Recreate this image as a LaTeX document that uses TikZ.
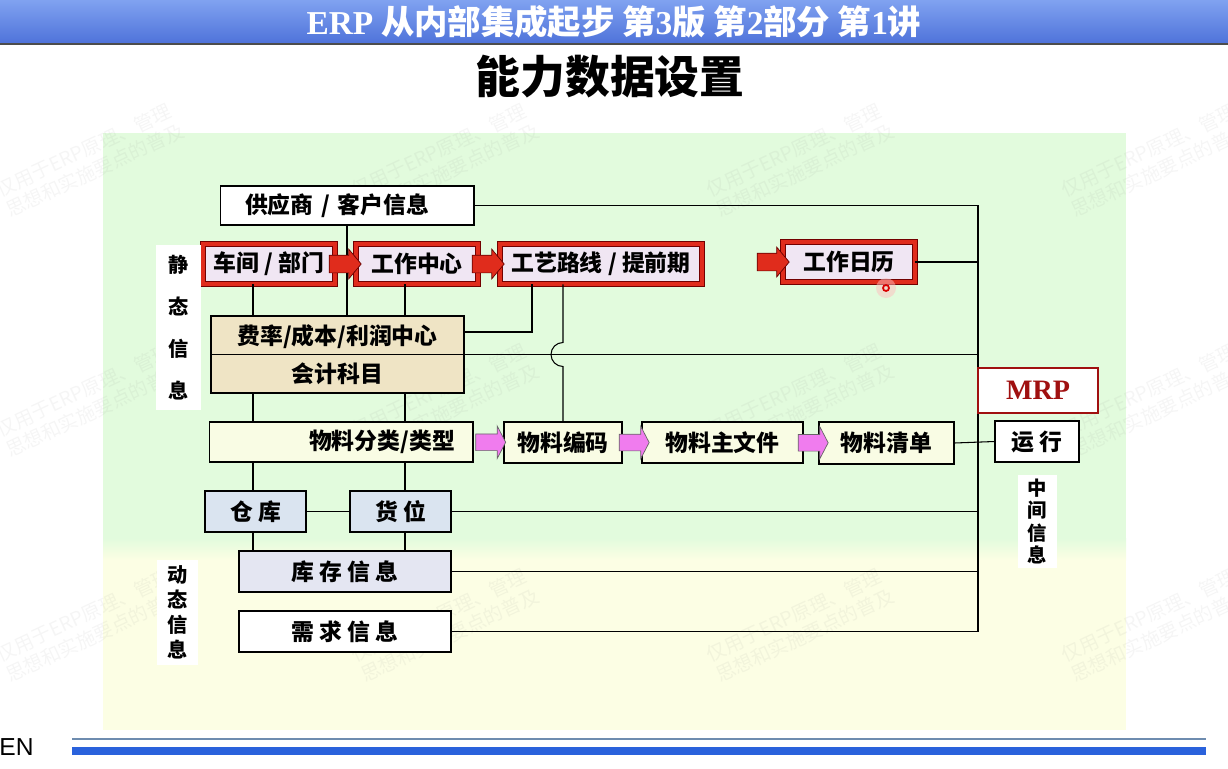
\documentclass[tikz,border=0pt]{standalone}
\usepackage{fontspec}
\setmainfont{Noto Sans CJK SC}
\newfontfamily\enserif{Liberation Serif}
\newfontfamily\ensans{Liberation Sans}
\usetikzlibrary{shapes.arrows,calc}

\definecolor{headtop}{RGB}{128,162,240}
\definecolor{headbot}{RGB}{78,114,218}
\definecolor{areagreen}{RGB}{226,251,221}
\definecolor{areayellow}{RGB}{252,254,228}
\definecolor{boxlav}{RGB}{240,230,243}
\definecolor{boxred}{RGB}{224,44,28}
\definecolor{boxtan}{RGB}{239,228,197}
\definecolor{paleyellow}{RGB}{249,252,228}
\definecolor{steel}{RGB}{218,228,240}
\definecolor{greyblue}{RGB}{228,230,242}
\definecolor{arrowpink}{RGB}{240,124,238}
\definecolor{mrpred}{RGB}{160,16,16}
\definecolor{barblue}{RGB}{42,98,220}
\definecolor{barline}{RGB}{110,140,175}

\tikzset{
  box/.style={draw=black, line width=0.6pt, inner sep=0pt, minimum height=0.82cm,
    font=\bfseries\fontsize{13}{15}\selectfont},
  redbox/.style={box, fill=boxlav, draw=red!45!black, line width=0.4pt,
    double=boxred, double distance=2.8pt, minimum height=0.80cm},
  redarrow/.style={single arrow, single arrow tip angle=100, single arrow head extend=0.12cm,
    inner xsep=0pt, inner ysep=0.17cm, minimum height=0.64cm,
    fill=boxred, draw=red!40!black, line width=0.4pt},
  pinkarrow/.style={single arrow, single arrow tip angle=125, single arrow head extend=0.16cm,
    inner xsep=0pt, inner ysep=0.16cm, minimum height=0.60cm,
    fill=arrowpink, draw=black!60, line width=0.4pt},
  vlabel/.style={fill=white, inner sep=0pt, align=center},
  conn/.style={draw=black, line width=0.6pt},
  watermark/.style={rotate=25, align=left, text=gray, opacity=0.08,
    font=\fontsize{11}{13}\selectfont}
}

\begin{document}
\begin{tikzpicture}[x=0.02cm,y=-0.02cm]
\useasboundingbox (0,0) rectangle (1228,768);

% header and title
\shade[top color=headtop, bottom color=headbot] (0,0) rectangle (1228,44);
\draw[black!70, line width=0.8pt] (0,44) -- (1228,44);
\node[text=white, font=\bfseries\fontsize{19}{21}\selectfont] (head) at (614,22)
  {{\enserif ERP} 从内部集成起步 第{\enserif 3}版 第{\enserif 2}部分 第{\enserif 1}讲};
\node[font=\bfseries\fontsize{25.5}{28}\selectfont] (title) at (610,77) {能力数据设置};

% coloured area
\fill[areagreen] (103,133) rectangle (1126,538);
\shade[top color=areagreen, bottom color=areayellow] (103,538) rectangle (1126,560);
\fill[areayellow] (103,560) rectangle (1126,730);
\foreach \wx in {90,445,800,1155}
  \foreach \wy in {160,400,625}
    \node[watermark] (wm-\wx-\wy) at (\wx,\wy) {仅用于ERP原理、管理\\思想和实施要点的普及};

% static information
\node[box, fill=white, minimum width=5.08cm, minimum height=0.78cm, text width=4.08cm,
  inner xsep=0.5cm, align=left] (gys) at (347,205.5) {供应商 / 客户信息};
\node[redbox, minimum width=2.64cm] (chejian) at (269,264) {车间 / 部门};
\node[redbox, minimum width=2.44cm] (gzzx) at (417,264) {工作中心};
\node[redbox, minimum width=4.04cm] (gylx) at (601,264) {工艺路线 / 提前期};
\node[redbox, minimum width=2.64cm] (gzrl) at (849,262) {工作日历};
\node[box, fill=boxtan, minimum width=5.06cm, minimum height=1.54cm, align=center,
  font=\bfseries\fontsize{13}{21.5}\selectfont] (feilv) at (337.5,354.5) {费率/成本/利润中心\\会计科目};
\node[box, fill=paleyellow, minimum width=5.28cm, minimum height=0.80cm, text width=4.56cm,
  inner xsep=0.36cm, align=right] (wlfl) at (341,442) {物料分类/类型};
\node[box, fill=paleyellow, minimum width=2.36cm] (wlbm) at (563,442.5) {物料编码};
\node[box, fill=paleyellow, minimum width=3.22cm] (wlzwj) at (722.5,442.5) {物料主文件};
\node[box, fill=paleyellow, minimum width=2.70cm, minimum height=0.84cm] (wlqd) at (886.5,443) {物料清单};
\node[box, fill=white, minimum width=1.68cm] (yunxing) at (1037,441.5) {运 行};
\node[box, fill=steel, minimum width=2.02cm] (cangku) at (255.5,511.5) {仓 库};
\node[box, fill=steel, minimum width=2.02cm] (huowei) at (400.5,511.5) {货 位};

% dynamic information
\node[box, fill=greyblue, minimum width=4.24cm] (kucun) at (345,571.5) {库 存 信 息};
\node[box, fill=white, minimum width=4.24cm] (xuqiu) at (345,631.5) {需 求 信 息};

% side labels
\node[vlabel, minimum width=0.90cm, minimum height=3.30cm,
  font=\bfseries\fontsize{11.5}{24}\selectfont] (jingtai) at (178.5,327.5) {静\\态\\信\\息};
\node[vlabel, minimum width=0.82cm, minimum height=2.10cm,
  font=\bfseries\fontsize{11.5}{14.2}\selectfont] (dongtai) at (177.5,612.5) {动\\态\\信\\息};
\node[vlabel, minimum width=0.78cm, minimum height=1.86cm,
  font=\bfseries\fontsize{11}{12.7}\selectfont] (zhongjian) at (1037.5,521.5) {中\\间\\信\\息};

% connectors
\coordinate (bus) at (978,207);
\coordinate (colA) at (253,0);
\coordinate (colB) at (405,0);
\coordinate (colC) at (532,332);
\coordinate (hop) at (563,342.5);
\draw[conn] (gys.east) -- (gys.east -| bus) -- (xuqiu.east -| bus) -- (xuqiu.east);
\draw[conn] (gzrl.east) -- (gzrl.east -| bus);
\draw[conn] ([xshift=0.04cm]feilv.west) -- (feilv.west -| bus);
\draw[conn] (huowei.east) -- (huowei.east -| bus);
\draw[conn] (kucun.east) -- (kucun.east -| bus);
\draw[conn] (cangku.east) -- (huowei.west);
\draw[conn] (wlqd.east) -- (yunxing.west);
\draw[conn] (gys.south) -- (gys.south |- feilv.north);
\draw[conn] (colA |- chejian.south) -- (colA |- feilv.north);
\draw[conn] (colB |- gzzx.south) -- (colB |- feilv.north);
\draw[conn] (colA |- feilv.south) -- (colA |- wlfl.north);
\draw[conn] (colB |- feilv.south) -- (colB |- wlfl.north);
\draw[conn] (colA |- wlfl.south) -- (colA |- cangku.north);
\draw[conn] (colB |- wlfl.south) -- (colB |- huowei.north);
\draw[conn] (colA |- cangku.south) -- (colA |- kucun.north);
\draw[conn] (colB |- huowei.south) -- (colB |- kucun.north);
\draw[conn] (colC |- gylx.south) -- (colC) -- (colC -| feilv.east);
\draw[conn] (hop |- gylx.south) -- (hop) arc[start angle=90, end angle=270, radius=0.24cm] -- (wlbm.north);

\node[box, fill=white, draw=mrpred, minimum width=2.40cm, minimum height=0.90cm, text=mrpred,
  font=\enserif\bfseries\fontsize{16}{18}\selectfont] (mrp) at (1038,390.5) {MRP};

% arrows
\node[redarrow, anchor=tip] (ar1) at ([xshift=0.12cm]gzzx.west) {};
\node[redarrow, anchor=tip] (ar2) at ([xshift=0.10cm]gylx.west) {};
\node[redarrow, anchor=tip] (ar3) at ([xshift=0.14cm]gzrl.west) {};
\node[pinkarrow] (pa1) at ($(wlfl.east)!0.5!(wlbm.west)$) {};
\node[pinkarrow] (pa2) at ($(wlbm.east)!0.5!(wlzwj.west)$) {};
\node[pinkarrow] (pa3) at ($(wlzwj.east)!0.5!(wlqd.west)$) {};

% pointer mark
\fill[red!25, opacity=0.5] (886,288) circle[radius=0.2cm];
\draw[red!85!black, line width=1pt] (886,288) circle[radius=0.06cm];

% footer
\draw[barline, line width=0.8pt] (72,739) -- (1206,739);
\fill[barblue] (72,747) rectangle (1206,755);
\node[anchor=west, inner sep=0pt, font=\ensans\fontsize{14}{16}\selectfont] (en) at (-1,747) {EN};
\end{tikzpicture}
\end{document}
